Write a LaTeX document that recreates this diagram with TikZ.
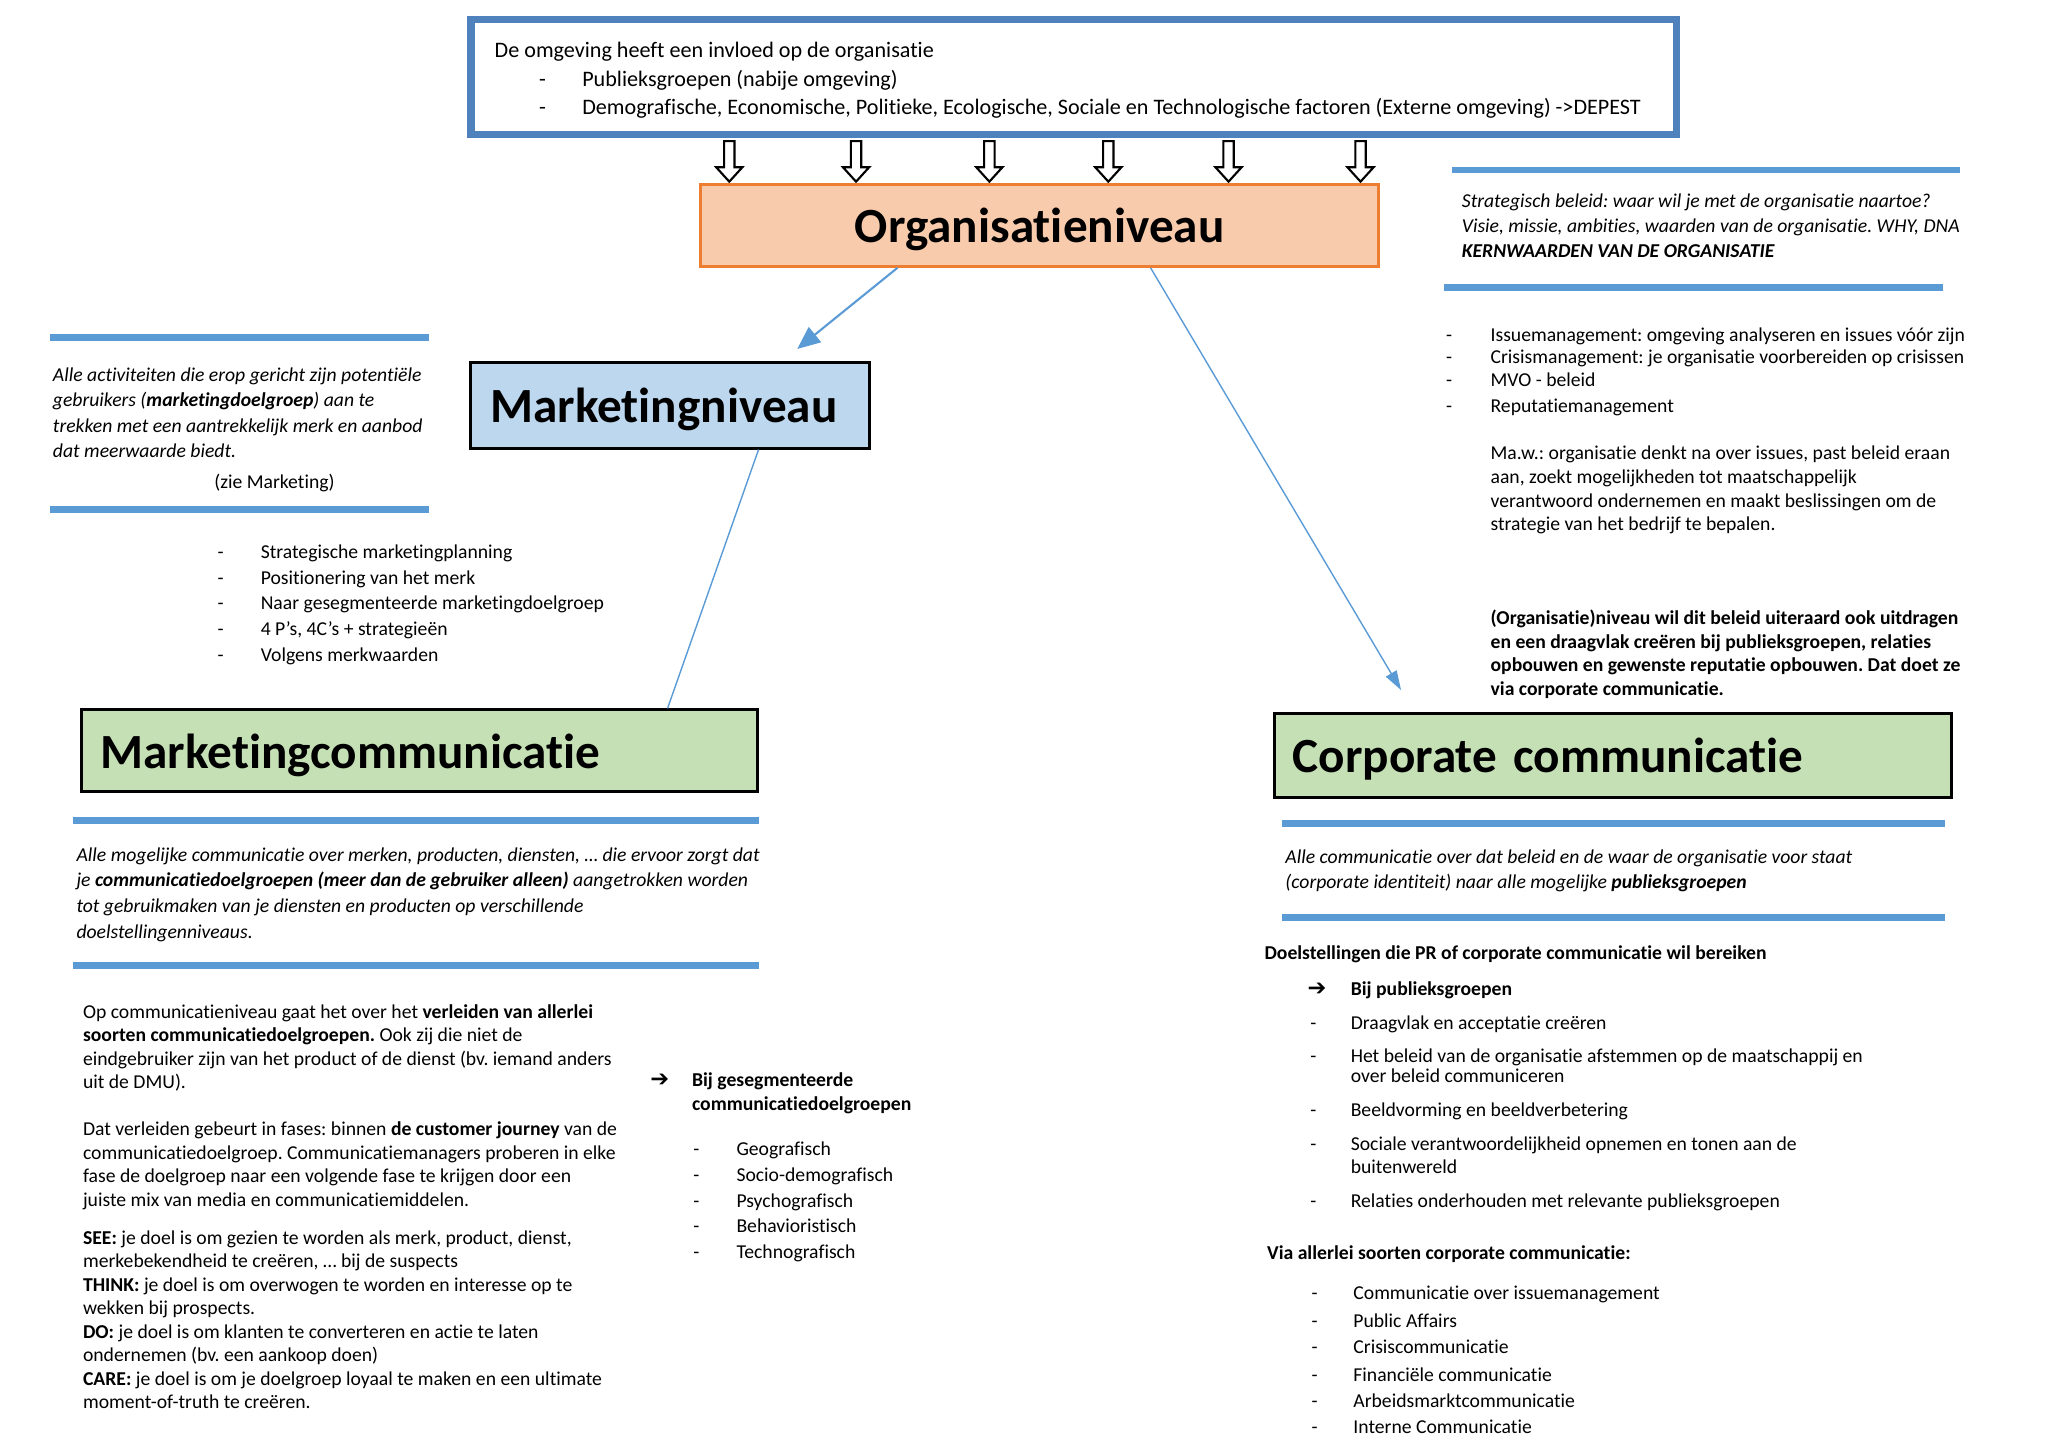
\documentclass[tikz,border=0pt]{standalone}
\usepackage{fontspec}
\setmainfont{Carlito}[Ligatures={TeX,NoCommon}]
\newfontfamily\symfont{DejaVu Sans Bold}
\usetikzlibrary{arrows.meta,calc}
\definecolor{barblue}{HTML}{5B9BD5}
\definecolor{frameblue}{HTML}{4F81BD}
\definecolor{orgfill}{HTML}{F8CBAD}
\definecolor{orgdraw}{HTML}{ED7D31}
\definecolor{mktfill}{HTML}{BDD7EE}
\definecolor{comfill}{HTML}{C5E0B4}
\frenchspacing

\begin{document}
\begin{tikzpicture}[x=0.01307cm,y=-0.01307cm]
\tikzstyle{txt}=[anchor=base west,inner sep=0pt,align=left,yshift=-0.026cm,font=\fontsize{5.6}{7.07}\selectfont]
\tikzstyle{itxt}=[txt,font=\fontsize{5.6}{7.07}\selectfont\itshape]
\tikzstyle{btxt}=[txt,font=\fontsize{5.6}{7.07}\selectfont\bfseries]
\tikzstyle{toptxt}=[txt,font=\fontsize{6.3}{8.2}\selectfont]
\tikzstyle{pijl}=[txt,font=\symfont\fontsize{6.4}{7.07}\selectfont]
\tikzstyle{level}=[draw,line width=0.8pt,inner sep=0pt,text depth=0pt,font=\fontsize{14}{16}\selectfont\bfseries]
\tikzstyle{bar}=[barblue,line width=1.9pt]
\tikzstyle{conn}=[barblue,line width=0.4pt]
\useasboundingbox (0,0) rectangle (1567,1108);
\node [draw=frameblue,line width=2pt,minimum width=12.06cm,minimum height=1.15cm] (env) at (821.5,59) {};
\node [toptxt] (env1) at (378,42) {De omgeving heeft een invloed op de organisatie};
\node [toptxt] (ed1) at (412,64) {-};
\node [toptxt] (env2) at (445,64) {Publieksgroepen (nabije omgeving)};
\node [toptxt] (ed2) at (412,86) {-};
\node [toptxt] (env3) at (445,86) {Demografische, Economische, Politieke, Ecologische, Sociale en Technologische factoren (Externe omgeving) ->DEPEST};
\foreach \x in {558,655,757,848,940,1041}
  \draw [line width=0.6pt,fill=white] (\x-4,108) -- (\x+4,108) -- (\x+4,128) -- (\x+10,128) -- (\x,139) -- (\x-10,128) -- (\x-4,128) -- cycle;
\node [level,fill=orgfill,draw=orgdraw,minimum width=6.78cm,minimum height=0.82cm] (org) at (795.5,172.5) {Organisatieniveau};
\node [level,fill=mktfill,minimum width=3.99cm,minimum height=0.86cm,text width=3.59cm,align=left] (mkt) at (512.5,310) {Marketingniveau};
\node [level,fill=comfill,minimum width=6.77cm,minimum height=0.82cm,text width=6.38cm,align=left] (mc) at (321,574.5) {Marketingcommunicatie};
\node [level,fill=comfill,minimum width=6.77cm,minimum height=0.84cm,text width=6.40cm,align=left] (cc) at (1234,578) {Corporate communicatie};
\draw [bar] (1111,130) -- (1500,130);
\draw [bar] (1105,220) -- (1487,220);
\draw [bar] (38,258) -- (328,258);
\draw [bar] (38,390) -- (328,390);
\draw [bar] (56,628) -- (581,628);
\draw [bar] (56,739) -- (581,739);
\draw [bar] (981,630) -- (1488,630);
\draw [bar] (981,702) -- (1488,702);
\coordinate (mktin) at (610,267);
\coordinate (ccin) at (1072,528);
\draw [conn,line width=0.6pt,-{Triangle[length=6.5pt,width=5.5pt]}] ($(org.south west)!0.291!(org.south east)$) -- (mktin);
\draw [conn] ($(mkt.south west)!0.721!(mkt.south east)$) -- ($(mc.north west)!0.865!(mc.north east)$);
\draw [conn,-{Triangle[length=5.5pt,width=3.5pt]}] ($(org.south west)!0.663!(org.south east)$) -- (ccin);
\node [itxt] (strat) at (1118,195) {Strategisch beleid: waar wil je met de organisatie naartoe?\\Visie, missie, ambities, waarden van de organisatie. WHY, DNA\\\textbf{KERNWAARDEN VAN DE ORGANISATIE}};
\node [txt] (od1) at (1106,259) {-};
\node [txt] (o1) at (1140,259) {Issuemanagement: omgeving analyseren en issues vóór zijn};
\node [txt] (od2) at (1106,276) {-};
\node [txt] (o2) at (1140,276) {Crisismanagement: je organisatie voorbereiden op crisissen};
\node [txt] (od3) at (1106,294) {-};
\node [txt] (o3) at (1140,294) {MVO - beleid};
\node [txt] (od4) at (1106,314) {-};
\node [txt] (o4) at (1140,314) {Reputatiemanagement};
\node [txt,font=\fontsize{5.6}{6.7}\selectfont] (maw) at (1140,404) {Ma.w.: organisatie denkt na over issues, past beleid eraan\\aan, zoekt mogelijkheden tot maatschappelijk\\verantwoord ondernemen en maakt beslissingen om de\\strategie van het bedrijf te bepalen.};
\node [btxt,font=\fontsize{5.6}{6.7}\selectfont\bfseries] (uitdragen) at (1140,530) {(Organisatie)niveau wil dit beleid uiteraard ook uitdragen\\en een draagvlak creëren bij publieksgroepen, relaties\\opbouwen en gewenste reputatie opbouwen. Dat doet ze\\via corporate communicatie.};
\node [itxt,font=\fontsize{5.6}{7.18}\selectfont\itshape] (mktdef) at (40,348) {Alle activiteiten die erop gericht zijn potentiële\\gebruikers (\textbf{marketingdoelgroep}) aan te\\trekken met een aantrekkelijk merk en aanbod\\dat meerwaarde biedt.};
\node [txt,anchor=base] (zie) at (210,372) {(zie Marketing)};
\node [txt] (md1) at (166,425) {-};
\node [txt] (m1) at (199,425) {Strategische marketingplanning};
\node [txt] (md2) at (166,445) {-};
\node [txt] (m2) at (199,445) {Positionering van het merk};
\node [txt] (md3) at (166,464) {-};
\node [txt] (m3) at (199,464) {Naar gesegmenteerde marketingdoelgroep};
\node [txt] (md4) at (166,484) {-};
\node [txt] (m4) at (199,484) {4 P’s, 4C’s + strategieën};
\node [txt] (md5) at (166,504) {-};
\node [txt] (m5) at (199,504) {Volgens merkwaarden};
\node [itxt,font=\fontsize{5.6}{7.33}\selectfont\itshape] (mcdef) at (58,716) {Alle mogelijke communicatie over merken, producten, diensten, … die ervoor zorgt dat\\je \textbf{communicatiedoelgroepen (meer dan de gebruiker alleen)} aangetrokken worden\\tot gebruikmaken van je diensten en producten op verschillende\\doelstellingenniveaus.};
\node [txt,font=\fontsize{5.6}{6.7}\selectfont] (verleiden) at (63,831) {Op communicatieniveau gaat het over het \textbf{verleiden van allerlei}\\\textbf{soorten communicatiedoelgroepen.} Ook zij die niet de\\eindgebruiker zijn van het product of de dienst (bv. iemand anders\\uit de DMU).};
\node [txt,font=\fontsize{5.6}{6.7}\selectfont] (fases) at (63,921) {Dat verleiden gebeurt in fases: binnen \textbf{de customer journey} van de\\communicatiedoelgroep. Communicatiemanagers proberen in elke\\fase de doelgroep naar een volgende fase te krijgen door een\\juiste mix van media en communicatiemiddelen.};
\node [txt,font=\fontsize{5.6}{6.7}\selectfont] (see) at (63,1076) {\textbf{SEE:} je doel is om gezien te worden als merk, product, dienst,\\merkebekendheid te creëren, … bij de suspects\\\textbf{THINK:} je doel is om overwogen te worden en interesse op te\\wekken bij prospects.\\\textbf{DO:} je doel is om klanten te converteren en actie te laten\\ondernemen (bv. een aankoop doen)\\\textbf{CARE:} je doel is om je doelgroep loyaal te maken en een ultimate\\moment-of-truth te creëren.};
\node [pijl] (sp) at (497,829) {➔};
\node [btxt] (seg) at (529,848) {Bij gesegmenteerde\\communicatiedoelgroepen};
\node [txt] (sd1) at (530,882) {-};
\node [txt] (s1) at (563,882) {Geografisch};
\node [txt] (sd2) at (530,902) {-};
\node [txt] (s2) at (563,902) {Socio-demografisch};
\node [txt] (sd3) at (530,922) {-};
\node [txt] (s3) at (563,922) {Psychografisch};
\node [txt] (sd4) at (530,941) {-};
\node [txt] (s4) at (563,941) {Behavioristisch};
\node [txt] (sd5) at (530,961) {-};
\node [txt] (s5) at (563,961) {Technografisch};
\node [itxt] (ccdef) at (983,678) {Alle communicatie over dat beleid en de waar de organisatie voor staat\\(corporate identiteit) naar alle mogelijke \textbf{publieksgroepen}};
\node [btxt] (doel) at (967,732) {Doelstellingen die PR of corporate communicatie wil bereiken};
\node [pijl] (pp) at (1000,760) {➔};
\node [btxt] (pub) at (1033,760) {Bij publieksgroepen};
\node [txt] (pd1) at (1002,786) {-};
\node [txt] (p1) at (1033,786) {Draagvlak en acceptatie creëren};
\node [txt] (pd2) at (1002,811) {-};
\node [txt,font=\fontsize{5.6}{5.6}\selectfont] (p2) at (1033,826) {Het beleid van de organisatie afstemmen op de maatschappij en\\over beleid communiceren};
\node [txt] (pd3) at (1002,852) {-};
\node [txt] (p3) at (1033,852) {Beeldvorming en beeldverbetering};
\node [txt] (pd4) at (1002,878) {-};
\node [txt,font=\fontsize{5.6}{6.7}\selectfont] (p4) at (1033,896) {Sociale verantwoordelijkheid opnemen en tonen aan de\\buitenwereld};
\node [txt] (pd5) at (1002,922) {-};
\node [txt] (p5) at (1033,922) {Relaties onderhouden met relevante publieksgroepen};
\node [btxt] (via) at (969,962) {Via allerlei soorten corporate communicatie:};
\node [txt] (vd1) at (1003,992) {-};
\node [txt] (v1) at (1035,992) {Communicatie over issuemanagement};
\node [txt] (vd2) at (1003,1014) {-};
\node [txt] (v2) at (1035,1014) {Public Affairs};
\node [txt] (vd3) at (1003,1034) {-};
\node [txt] (v3) at (1035,1034) {Crisiscommunicatie};
\node [txt] (vd4) at (1003,1055) {-};
\node [txt] (v4) at (1035,1055) {Financiële communicatie};
\node [txt] (vd5) at (1003,1075) {-};
\node [txt] (v5) at (1035,1075) {Arbeidsmarktcommunicatie};
\node [txt] (vd6) at (1003,1095) {-};
\node [txt] (v6) at (1035,1095) {Interne Communicatie};
\end{tikzpicture}
\end{document}
